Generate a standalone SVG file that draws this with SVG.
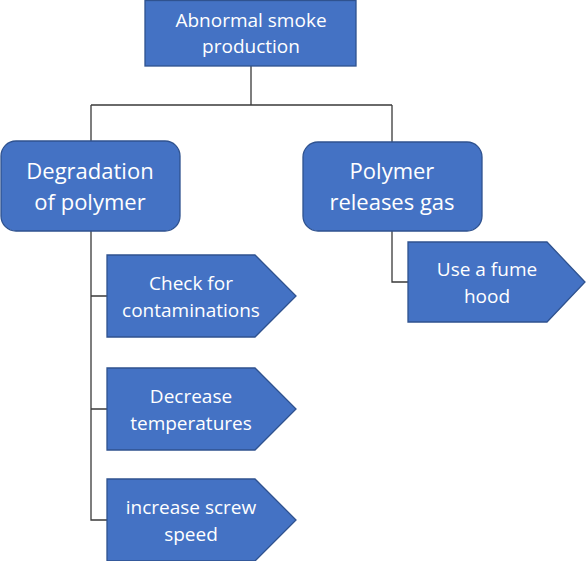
<svg xmlns="http://www.w3.org/2000/svg" width="587" height="561" viewBox="0 0 587 561">
<style>
.box{fill:#4472C4;stroke:#2F528F;stroke-width:1.3}
.t{font-family:"Open Sans","Noto Sans","Liberation Sans",sans-serif;fill:#fff;text-anchor:middle}
.s{font-size:19px}
.l{font-size:22px}
.c{fill:none;stroke:#3a3a3a;stroke-width:1.3}
</style>
<rect width="587" height="561" fill="#fff"/>
<g id="connectors">
<path class="c" d="M251 66V105M91 105H392M91 105V141M392 105V142"/>
<path class="c" d="M91 231V520H107M91 296H107M91 409H107"/>
<path class="c" d="M392 231V282H408"/>
</g>
<g id="n-root">
<rect class="box" x="145" y="0.5" width="211" height="65.5"/>
<text class="t s" x="251" y="27">Abnormal smoke</text>
<text class="t s" x="251" y="53">production</text>
</g>
<g id="n-degradation">
<rect class="box" x="1" y="141" width="179" height="90" rx="15"/>
<text class="t l" x="90" y="179">Degradation</text>
<text class="t l" x="90" y="210">of polymer</text>
</g>
<g id="n-gas">
<rect class="box" x="303" y="142" width="179" height="89" rx="15"/>
<text class="t l" x="392" y="179">Polymer</text>
<text class="t l" x="392" y="210">releases gas</text>
</g>
<g id="n-check">
<path class="box" d="M107 255H255L296 296L255 337H107Z"/>
<text class="t s" x="191" y="290">Check for</text>
<text class="t s" x="191" y="317">contaminations</text>
</g>
<g id="n-decrease">
<path class="box" d="M107 368H255L296 409L255 450H107Z"/>
<text class="t s" x="191" y="403">Decrease</text>
<text class="t s" x="191" y="430">temperatures</text>
</g>
<g id="n-screw">
<path class="box" d="M107 479H255L296 520L255 561H107Z"/>
<text class="t s" x="191" y="514">increase screw</text>
<text class="t s" x="191" y="541">speed</text>
</g>
<g id="n-hood">
<path class="box" d="M408 242H547L585 282L547 322H408Z"/>
<text class="t s" x="487" y="276">Use a fume</text>
<text class="t s" x="487" y="303">hood</text>
</g>
</svg>
